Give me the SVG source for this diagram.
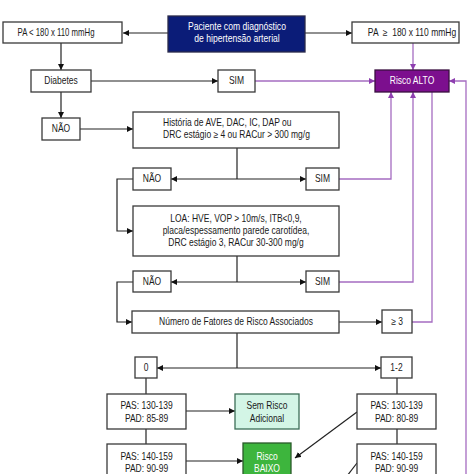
<svg xmlns="http://www.w3.org/2000/svg" width="474" height="474" viewBox="0 0 474 474">
<style>
.box{fill:#fff;stroke:#3a3a3a;stroke-width:1.3}
.t{font-family:"Liberation Sans",Arial,sans-serif;font-size:10px;fill:#1a1a1a;text-anchor:middle}
.s{text-anchor:start}
.w{fill:#fff}
.ln{stroke:#222;stroke-width:1.2;fill:none}
.pl{stroke:#a56cc1;stroke-width:1.3;fill:none}
</style>
<defs>
<marker id="ab" markerUnits="userSpaceOnUse" markerWidth="7" markerHeight="6" refX="6" refY="3" orient="auto"><path d="M0,0 L6,3 L0,6 z" fill="#111"/></marker>
<marker id="ap" markerUnits="userSpaceOnUse" markerWidth="7" markerHeight="6" refX="6" refY="3" orient="auto"><path d="M0,0 L6,3 L0,6 z" fill="#8e3fb0"/></marker>
</defs>
<rect width="474" height="474" fill="#fff"/>
<g id="connectors">
<line class="ln" x1="168" y1="33" x2="123" y2="33" marker-end="url(#ab)"/>
<line class="ln" x1="305" y1="33" x2="352" y2="33" marker-end="url(#ab)"/>
<line class="ln" x1="61" y1="43" x2="61" y2="70" marker-end="url(#ab)"/>
<line class="ln" x1="91" y1="81" x2="218" y2="81" marker-end="url(#ab)"/>
<line class="ln" x1="61" y1="92" x2="61" y2="118" marker-end="url(#ab)"/>
<line class="ln" x1="80" y1="129" x2="133" y2="129" marker-end="url(#ab)"/>
<line class="pl" x1="255" y1="81" x2="375" y2="81" marker-end="url(#ap)"/>
<line class="pl" x1="413" y1="43" x2="413" y2="70" marker-end="url(#ap)"/>
<line class="ln" x1="237" y1="148" x2="237" y2="179"/>
<line class="ln" x1="237" y1="179" x2="171" y2="179" marker-end="url(#ab)"/>
<line class="ln" x1="237" y1="179" x2="306" y2="179" marker-end="url(#ab)"/>
<path class="ln" d="M133,179 H117 V231 H133" marker-end="url(#ab)"/>
<path class="pl" d="M339,179 H391 V92" marker-end="url(#ap)"/>
<line class="ln" x1="237" y1="256" x2="237" y2="282"/>
<line class="ln" x1="237" y1="282" x2="171" y2="282" marker-end="url(#ab)"/>
<line class="ln" x1="237" y1="282" x2="306" y2="282" marker-end="url(#ab)"/>
<path class="pl" d="M339,282 H413 V92" marker-end="url(#ap)"/>
<path class="ln" d="M133,282 H117 V322 H132" marker-end="url(#ab)"/>
<line class="ln" x1="339" y1="322" x2="382" y2="322" marker-end="url(#ab)"/>
<path class="pl" d="M412,322 H432 V92"/>
<path class="pl" d="M466,474 V81 H449" marker-end="url(#ap)"/>
<line class="ln" x1="237" y1="333" x2="237" y2="368"/>
<line class="ln" x1="237" y1="368" x2="157" y2="368" marker-end="url(#ab)"/>
<line class="ln" x1="237" y1="368" x2="381" y2="368" marker-end="url(#ab)"/>
<line class="ln" x1="146" y1="378" x2="146" y2="394"/>
<line class="ln" x1="146" y1="429" x2="146" y2="444"/>
<line class="ln" x1="186" y1="411" x2="235" y2="411" marker-end="url(#ab)"/>
<line class="ln" x1="186" y1="461" x2="243" y2="461" marker-end="url(#ab)"/>
<line class="ln" x1="397" y1="378" x2="397" y2="394"/>
<line class="ln" x1="397" y1="429" x2="397" y2="444"/>
<line class="ln" x1="357" y1="412" x2="295" y2="458" marker-end="url(#ab)"/>
<line class="ln" x1="357" y1="463" x2="347" y2="476"/>
</g>
<g id="n_patient"><rect x="168" y="16" width="137" height="36" fill="#0b1c78" stroke="#2a2a4a" stroke-width="1.3"/><text class="t w" transform="translate(237 0) scale(.86 1)" y="30.5">Paciente com diagnóstico</text><text class="t w" transform="translate(237 0) scale(.86 1)" y="42">de hipertensão arterial</text></g>
<g id="n_pa_low"><rect class="box" x="3" y="22" width="119" height="21"/><text class="t" transform="translate(56 0) scale(.78 1)" y="36.5">PA &lt; 180 x 110 mmHg</text></g>
<g id="n_pa_high"><rect class="box" x="352" y="22" width="107" height="21"/><text class="t" transform="translate(412 0) scale(.85 1)" y="36.5" xml:space="preserve">PA  ≥  180 x 110 mmHg</text></g>
<g id="n_diabetes"><rect class="box" x="31" y="70" width="60" height="22"/><text class="t" transform="translate(61 0) scale(.85 1)" y="84.5">Diabetes</text></g>
<g id="n_sim1"><rect class="box" x="218" y="70" width="37" height="22"/><text class="t" transform="translate(236.5 0) scale(.85 1)" y="84.5">SIM</text></g>
<g id="n_alto"><rect x="375" y="70" width="74" height="22" fill="#7c0f8e" stroke="#3a1040" stroke-width="1.3"/><text class="t w" transform="translate(412 0) scale(.85 1)" y="84.5">Risco ALTO</text></g>
<g id="n_nao1"><rect class="box" x="42" y="118" width="38" height="22"/><text class="t" transform="translate(61 0) scale(.85 1)" y="132.5">NÃO</text></g>
<g id="n_hist"><rect class="box" x="133" y="112" width="206" height="36"/><text class="t s" transform="translate(163 0) scale(.85 1)" y="126">História de AVE, DAC, IC, DAP ou</text><text class="t s" transform="translate(163 0) scale(.85 1)" y="138">DRC estágio ≥ 4 ou RACur &gt; 300 mg/g</text></g>
<g id="n_nao2"><rect class="box" x="133" y="168" width="38" height="22"/><text class="t" transform="translate(152 0) scale(.85 1)" y="182.5">NÃO</text></g>
<g id="n_sim2"><rect class="box" x="306" y="168" width="33" height="22"/><text class="t" transform="translate(322.5 0) scale(.85 1)" y="182.5">SIM</text></g>
<g id="n_loa"><rect class="box" x="133" y="206" width="206" height="50"/><text class="t" transform="translate(236 0) scale(.85 1)" y="222">LOA: HVE, VOP &gt; 10m/s, ITB&lt;0,9,</text><text class="t" transform="translate(236 0) scale(.85 1)" y="234">placa/espessamento parede carotídea,</text><text class="t" transform="translate(236 0) scale(.85 1)" y="246">DRC estágio 3, RACur 30-300 mg/g</text></g>
<g id="n_nao3"><rect class="box" x="133" y="271" width="38" height="21"/><text class="t" transform="translate(152 0) scale(.85 1)" y="285">NÃO</text></g>
<g id="n_sim3"><rect class="box" x="306" y="271" width="33" height="21"/><text class="t" transform="translate(322.5 0) scale(.85 1)" y="285">SIM</text></g>
<g id="n_num"><rect class="box" x="132" y="311" width="207" height="22"/><text class="t" transform="translate(236 0) scale(.85 1)" y="325.5">Número de Fatores de Risco Associados</text></g>
<g id="n_ge3"><rect class="box" x="382" y="310" width="30" height="23"/><text class="t" transform="translate(397 0) scale(.85 1)" y="325.5">≥ 3</text></g>
<g id="n_zero"><rect class="box" x="135" y="357" width="22" height="21"/><text class="t" transform="translate(146 0) scale(.85 1)" y="371">0</text></g>
<g id="n_12"><rect class="box" x="381" y="357" width="31" height="21"/><text class="t" transform="translate(396.5 0) scale(.85 1)" y="371">1-2</text></g>
<g id="n_pas_l1"><rect class="box" x="107" y="394" width="79" height="35"/><text class="t" transform="translate(146.5 0) scale(.85 1)" y="409.5">PAS: 130-139</text><text class="t" transform="translate(146.5 0) scale(.85 1)" y="422">PAD: 85-89</text></g>
<g id="n_pas_l2"><rect class="box" x="107" y="444" width="79" height="40"/><text class="t" transform="translate(146.5 0) scale(.85 1)" y="460">PAS: 140-159</text><text class="t" transform="translate(146.5 0) scale(.85 1)" y="472">PAD: 90-99</text></g>
<g id="n_sem"><rect x="235" y="394" width="64" height="35" fill="#d3f5e6" stroke="#3c6e58" stroke-width="1.3"/><text class="t" transform="translate(267 0) scale(.85 1)" y="409.5">Sem Risco</text><text class="t" transform="translate(267 0) scale(.85 1)" y="422">Adicional</text></g>
<g id="n_baixo"><rect x="243" y="443" width="48" height="41" fill="#3db53d" stroke="#2a5a2a" stroke-width="1.3"/><text class="t w" transform="translate(267 0) scale(.85 1)" y="460">Risco</text><text class="t w" transform="translate(267 0) scale(.85 1)" y="472">BAIXO</text></g>
<g id="n_pas_r1"><rect class="box" x="357" y="394" width="79" height="35"/><text class="t" transform="translate(396.5 0) scale(.85 1)" y="409.5">PAS: 130-139</text><text class="t" transform="translate(396.5 0) scale(.85 1)" y="422">PAD: 80-89</text></g>
<g id="n_pas_r2"><rect class="box" x="357" y="444" width="79" height="40"/><text class="t" transform="translate(396.5 0) scale(.85 1)" y="460">PAS: 140-159</text><text class="t" transform="translate(396.5 0) scale(.85 1)" y="472">PAD: 90-99</text></g>
</svg>
